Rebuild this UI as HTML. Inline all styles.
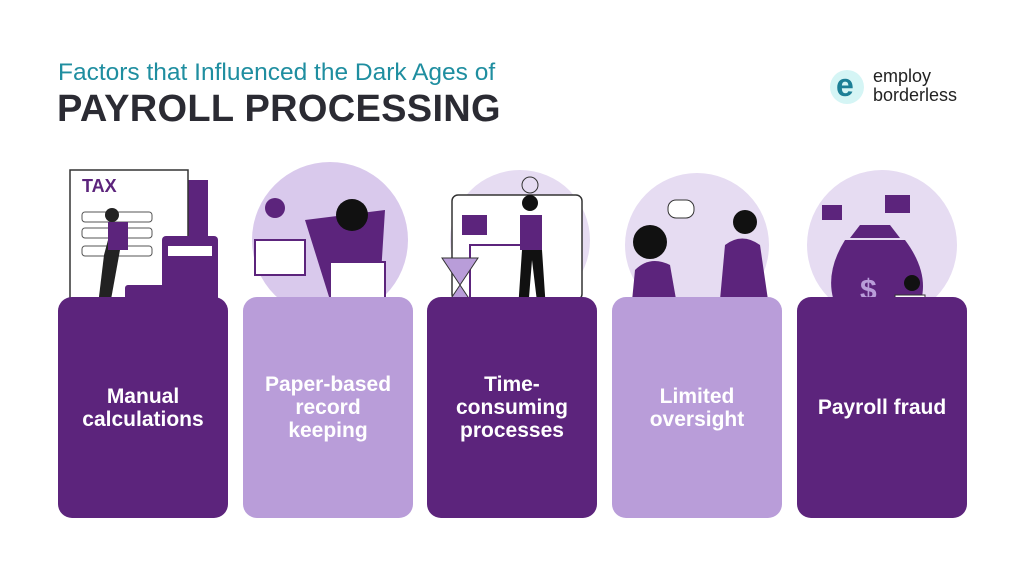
<!DOCTYPE html>
<html><head><style>
body{margin:0;width:1024px;height:576px;background:#fff;font-family:"Liberation Sans",sans-serif;position:relative;overflow:hidden}
.a{position:absolute}
.card{position:absolute;top:297px;width:170px;height:221px;border-radius:14px;color:#fff;display:flex;align-items:center;justify-content:center;text-align:center;font-size:21px;line-height:23px;font-weight:bold;padding-top:0}
.d{background:#5c247c}.l{background:#b99dd9}
</style></head><body>
<div class="a" style="left:58px;top:59px;font-size:24.5px;color:#1f8ea0">Factors that Influenced the Dark Ages of</div>
<div class="a" style="left:57px;top:88px;font-size:38px;font-weight:bold;color:#2b2b33;letter-spacing:0.3px">PAYROLL PROCESSING</div>
<div class="a" style="left:830px;top:70px;width:34px;height:34px;border-radius:50%;background:#d5f5f5"></div>
<div class="a" style="left:836px;top:67px;font-size:32px;font-weight:bold;color:#1d7f96">e</div>
<div class="a" style="left:873px;top:67px;font-size:18px;line-height:19px;color:#222">employ<br>borderless</div>

<svg class="a" style="left:0;top:0" width="1024" height="330">
<rect x="188" y="180" width="20" height="130" fill="#5c247c"/>
<rect x="70" y="170" width="118" height="140" fill="#fff" stroke="#333" stroke-width="1.5"/>
<text x="82" y="192" font-family="Liberation Sans" font-weight="bold" font-size="18" fill="#5c247c">TAX</text>
<rect x="82" y="212" width="70" height="10" rx="3" fill="none" stroke="#555"/>
<rect x="82" y="228" width="70" height="10" rx="3" fill="none" stroke="#555"/>
<rect x="82" y="246" width="70" height="10" rx="3" fill="none" stroke="#555"/>
<rect x="162" y="236" width="56" height="82" rx="4" fill="#5c247c"/>
<rect x="168" y="246" width="44" height="10" fill="#fff"/>
<rect x="125" y="285" width="55" height="30" rx="3" fill="#5c247c"/>
<path d="M112 225 L120 250 L110 305 L98 305 L104 255 Z" fill="#222"/>
<rect x="108" y="222" width="20" height="28" fill="#5c247c"/>
<circle cx="112" cy="215" r="7" fill="#222"/>
<circle cx="330" cy="240" r="78" fill="#d9c9ec"/>
<path d="M305 220 L385 210 L380 290 L330 300 Z" fill="#5c247c"/>
<circle cx="352" cy="215" r="16" fill="#111"/>
<rect x="330" y="262" width="55" height="38" fill="#fff" stroke="#5c247c" stroke-width="2"/>
<rect x="255" y="240" width="50" height="35" fill="#fff" stroke="#5c247c" stroke-width="2"/>
<circle cx="275" cy="208" r="10" fill="#5c247c"/>
<circle cx="520" cy="240" r="70" fill="#e6dcf2"/>
<rect x="452" y="195" width="130" height="105" rx="6" fill="#fff" stroke="#333" stroke-width="1.5"/>
<rect x="462" y="215" width="25" height="20" fill="#5c247c"/>
<rect x="470" y="245" width="70" height="55" fill="#fff" stroke="#5c247c" stroke-width="2"/>
<path d="M442 258 L478 258 L460 285 L478 312 L442 312 L460 285 Z" fill="#b99dd9" stroke="#333"/>
<rect x="520" y="215" width="22" height="35" fill="#5c247c"/>
<circle cx="530" cy="203" r="8" fill="#111"/>
<path d="M522 250 L518 310 L528 310 L532 260 L538 310 L546 310 L542 250Z" fill="#111"/>
<circle cx="530" cy="185" r="8" fill="none" stroke="#333"/>
<circle cx="697" cy="245" r="72" fill="#e6dcf2"/>
<path d="M630 322 L635 270 Q650 255 670 265 L680 322Z" fill="#5c247c"/>
<circle cx="650" cy="242" r="17" fill="#111"/>
<path d="M720 300 L725 245 Q742 232 760 245 L768 300Z" fill="#5c247c"/>
<circle cx="745" cy="222" r="12" fill="#111"/>
<rect x="668" y="200" width="26" height="18" rx="8" fill="#fff" stroke="#333"/>
<circle cx="882" cy="245" r="75" fill="#e6dcf2"/>
<path d="M845 240 Q820 280 840 315 L915 315 Q935 280 905 240 Z" fill="#5c247c"/>
<path d="M850 238 L900 238 L890 225 L860 225Z" fill="#5c247c"/>
<text x="860" y="300" font-family="Liberation Sans" font-weight="bold" font-size="30" fill="#b99dd9">$</text>
<rect x="822" y="205" width="20" height="15" fill="#5c247c"/>
<rect x="885" y="195" width="25" height="18" fill="#5c247c"/>
<circle cx="912" cy="283" r="8" fill="#111"/>
<rect x="895" y="295" width="30" height="20" fill="#fff" stroke="#333"/>
</svg>

<div class="card d" style="left:58px">Manual<br>calculations</div>
<div class="card l" style="left:243px">Paper-based<br>record<br>keeping</div>
<div class="card d" style="left:427px">Time-<br>consuming<br>processes</div>
<div class="card l" style="left:612px">Limited<br>oversight</div>
<div class="card d" style="left:797px">Payroll fraud</div>
</body></html>
